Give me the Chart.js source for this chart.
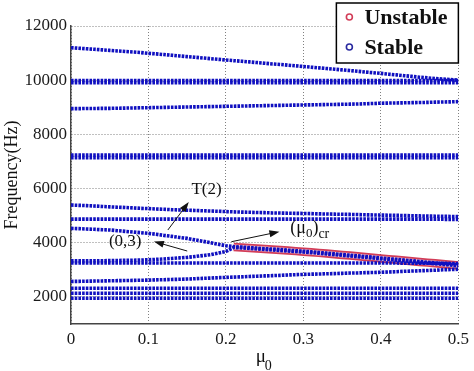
<!DOCTYPE html>
<html>
<head>
<meta charset="utf-8">
<script src="https://cdn.jsdelivr.net/npm/chart.js@4.4.0/dist/chart.umd.min.js"></script>
<style>
html, body { margin: 0; padding: 0; background: #fff; }
</style>
</head>
<body>
<canvas id="c" width="474" height="371"></canvas>
<script>
// mu_0 values along x
var mu = [0, 0.01, 0.02, 0.03, 0.04, 0.05, 0.06, 0.07, 0.08, 0.09,
  0.1, 0.11, 0.12, 0.13, 0.14, 0.15, 0.16, 0.17, 0.18, 0.19,
  0.2, 0.21, 0.22, 0.23, 0.24, 0.25, 0.26, 0.27, 0.28, 0.29,
  0.3, 0.31, 0.32, 0.33, 0.34, 0.35, 0.36, 0.37, 0.38, 0.39,
  0.4, 0.41, 0.42, 0.43, 0.44, 0.45, 0.46, 0.47, 0.48, 0.49, 0.5];

var yTicks = [2000, 4000, 6000, 8000, 10000, 12000];
var xTicks = [0, 0.1, 0.2, 0.3, 0.4, 0.5];

// stable frequencies (Hz)
var f11200 = [11200, 11180, 11160, 11140, 11120, 11100, 11080, 11060, 11040, 11020,
  10990, 10970, 10945, 10920, 10895, 10870, 10845, 10820, 10795, 10770,
  10745, 10720, 10700, 10675, 10650, 10625, 10600, 10580, 10555, 10530,
  10505, 10480, 10455, 10430, 10405, 10380, 10355, 10330, 10300, 10275,
  10250, 10220, 10195, 10165, 10140, 10110, 10085, 10060, 10040, 10020, 10000];
var f9990 = [9990, 9990, 9990, 9990, 9990, 9990, 9990, 9990, 9990, 9990,
  9990, 9990, 9990, 9990, 9990, 9990, 9990, 9990, 9990, 9990,
  9990, 9990, 9990, 9990, 9990, 9990, 9990, 9990, 9990, 9990,
  9990, 9990, 9990, 9990, 9990, 9990, 9990, 9990, 9990, 9990,
  9990, 9990, 9990, 9990, 9990, 9990, 9990, 9990, 9990, 9990, 9990];
var f9905 = [9905, 9905, 9905, 9905, 9905, 9905, 9905, 9905, 9905, 9905,
  9905, 9905, 9905, 9905, 9905, 9905, 9905, 9905, 9905, 9905,
  9905, 9905, 9905, 9905, 9905, 9905, 9905, 9905, 9905, 9905,
  9905, 9905, 9905, 9905, 9905, 9905, 9905, 9905, 9905, 9905,
  9905, 9905, 9905, 9905, 9905, 9905, 9905, 9905, 9905, 9905, 9905];
var f8950 = [8950, 8950, 8955, 8955, 8960, 8960, 8965, 8970, 8975, 8980,
  8985, 8990, 8995, 9000, 9005, 9010, 9015, 9020, 9025, 9030,
  9035, 9040, 9045, 9050, 9055, 9060, 9065, 9070, 9075, 9080,
  9085, 9090, 9095, 9100, 9105, 9110, 9115, 9120, 9130, 9140,
  9150, 9155, 9160, 9165, 9170, 9175, 9180, 9190, 9195, 9200, 9210];
var f7240 = [7240, 7240, 7240, 7240, 7240, 7240, 7240, 7240, 7240, 7240,
  7240, 7240, 7240, 7240, 7240, 7240, 7240, 7240, 7240, 7240,
  7240, 7240, 7240, 7240, 7240, 7240, 7240, 7240, 7240, 7240,
  7240, 7240, 7240, 7240, 7240, 7240, 7240, 7240, 7240, 7240,
  7240, 7240, 7240, 7240, 7240, 7240, 7240, 7240, 7240, 7240, 7240];
var f7140 = [7140, 7140, 7140, 7140, 7140, 7140, 7140, 7140, 7140, 7140,
  7140, 7140, 7140, 7140, 7140, 7140, 7140, 7140, 7140, 7140,
  7140, 7140, 7140, 7140, 7140, 7140, 7140, 7140, 7140, 7140,
  7140, 7140, 7140, 7140, 7140, 7140, 7140, 7140, 7140, 7140,
  7140, 7140, 7140, 7140, 7140, 7140, 7140, 7140, 7140, 7140, 7140];
var f5390 = [5390, 5380, 5370, 5355, 5340, 5325, 5310, 5300, 5285, 5270,
  5260, 5245, 5235, 5220, 5210, 5200, 5190, 5180, 5170, 5160,
  5150, 5140, 5130, 5125, 5115, 5110, 5100, 5095, 5090, 5085,
  5080, 5075, 5065, 5060, 5055, 5050, 5045, 5040, 5030, 5025,
  5020, 5015, 5010, 5005, 4995, 4990, 4985, 4980, 4975, 4970, 4965];
var f4870 = [4870, 4870, 4870, 4870, 4870, 4870, 4870, 4870, 4870, 4870,
  4870, 4870, 4870, 4870, 4870, 4870, 4870, 4870, 4870, 4870,
  4870, 4870, 4870, 4870, 4870, 4870, 4870, 4870, 4870, 4870,
  4870, 4870, 4870, 4870, 4870, 4870, 4870, 4870, 4870, 4870,
  4870, 4870, 4870, 4870, 4870, 4870, 4870, 4865, 4865, 4860, 4860];
// (0,3) pair: coalesce at (mu_0)cr ~ 0.21
var modeA = [4530, 4520, 4505, 4495, 4480, 4470, 4445, 4420, 4395, 4370,
  4345, 4310, 4270, 4235, 4195, 4160, 4105, 4055, 4000, 3945,
  3890, 3855, 3840, 3820, 3800, 3780, 3765, 3745, 3725, 3705,
  3685, 3665, 3640, 3615, 3590, 3565, 3540, 3515, 3490, 3465,
  3435, 3410, 3385, 3360, 3335, 3305, 3280, 3255, 3230, 3205, 3175];
var modeB = [3330, 3330, 3330, 3335, 3335, 3340, 3345, 3350, 3355, 3360,
  3370, 3385, 3400, 3420, 3440, 3460, 3490, 3525, 3560, 3620,
  3680, 3825, 3810, 3790, 3770, 3750, 3735, 3715, 3695, 3675,
  3655, 3635, 3610, 3585, 3560, 3535, 3510, 3485, 3460, 3435,
  3405, 3380, 3355, 3330, 3305, 3275, 3250, 3225, 3200, 3175, 3145];
var unstable = [null, null, null, null, null, null, null, null, null, null,
  null, null, null, null, null, null, null, null, null, null,
  null, 3840, 3825, 3805, 3785, 3765, 3750, 3730, 3710, 3690,
  3670, 3650, 3625, 3600, 3575, 3550, 3525, 3500, 3475, 3450,
  3420, 3395, 3370, 3345, 3320, 3290, 3265, 3240, 3215, 3190, 3160];
var f3250 = [3250, 3250, 3250, 3250, 3250, 3250, 3250, 3250, 3250, 3250,
  3250, 3250, 3250, 3250, 3250, 3250, 3250, 3250, 3250, 3250,
  3250, 3250, 3250, 3250, 3250, 3250, 3250, 3250, 3250, 3250,
  3250, 3250, 3250, 3250, 3250, 3250, 3250, 3250, 3250, 3250,
  3250, 3250, 3250, 3245, 3245, 3245, 3240, 3240, 3240, 3235, 3235];
var f2570 = [2570, 2575, 2580, 2585, 2590, 2595, 2600, 2605, 2610, 2615,
  2620, 2630, 2635, 2645, 2650, 2660, 2670, 2685, 2695, 2710,
  2720, 2730, 2740, 2755, 2765, 2775, 2785, 2795, 2810, 2820,
  2830, 2840, 2845, 2855, 2860, 2870, 2880, 2885, 2895, 2900,
  2910, 2920, 2930, 2945, 2955, 2965, 2975, 2985, 3000, 3010, 3020];
var f2320 = [2320, 2320, 2320, 2320, 2320, 2320, 2320, 2320, 2320, 2320,
  2320, 2320, 2320, 2320, 2320, 2320, 2320, 2320, 2320, 2320,
  2320, 2320, 2320, 2320, 2320, 2320, 2320, 2320, 2320, 2320,
  2320, 2320, 2320, 2320, 2320, 2320, 2320, 2320, 2320, 2320,
  2320, 2320, 2320, 2320, 2320, 2320, 2320, 2320, 2320, 2320, 2320];
var f2135 = [2135, 2135, 2135, 2135, 2135, 2135, 2135, 2135, 2135, 2135,
  2135, 2135, 2135, 2135, 2135, 2135, 2135, 2135, 2135, 2135,
  2135, 2135, 2135, 2135, 2135, 2135, 2135, 2135, 2135, 2135,
  2135, 2135, 2135, 2135, 2135, 2135, 2135, 2135, 2135, 2135,
  2135, 2135, 2135, 2135, 2135, 2135, 2135, 2135, 2135, 2135, 2135];
var f1950 = [1950, 1950, 1950, 1950, 1950, 1950, 1950, 1950, 1950, 1950,
  1950, 1950, 1950, 1950, 1950, 1950, 1950, 1950, 1950, 1950,
  1950, 1950, 1950, 1950, 1950, 1950, 1950, 1950, 1950, 1950,
  1950, 1950, 1950, 1950, 1950, 1950, 1950, 1950, 1950, 1950,
  1950, 1950, 1950, 1950, 1950, 1950, 1950, 1950, 1950, 1950, 1950];

var stableSeries = [f11200, f9990, f9905, f8950, f7240, f7140, f5390, f4870,
  modeA, modeB, f3250, f2570, f2320, f2135, f1950];
var legendLabels = ['Unstable', 'Stable'];

var SERIF = '"Liberation Serif", "Times New Roman", serif';
var BLUE = '#1010c0';
var RED = 'rgba(205,40,70,0.9)';

// labels/arrows, in data units
var notes = [
    { text: 'T(2)', x: 0.175, y: 5950, tail: [0.125, 4470], head: [0.152, 5500] },
    { text: '(0,3)', x: 0.070, y: 4030, tail: [0.150, 3694], head: [0.107, 4045] },
    { text: 'mucr', x: 0.283, y: 4540, tail: [0.207, 4037], head: [0.269, 4407] }
];

function pts(arr) {
    return mu.map(function (m, i) { return { x: m, y: arr[i] }; });
}

var datasets = stableSeries.map(function (s) {
    return {
        data: pts(s),
        borderColor: BLUE,
        borderWidth: 3.6,
        borderDash: [2.6, 1.1],
        borderCapStyle: 'butt',
        pointRadius: 0,
        tension: 0,
        order: 1
    };
});
datasets.push({
    data: pts(unstable), borderColor: '#f3c8d3', borderWidth: 5, pointRadius: 0, order: 5
});
datasets.push({
    data: pts(unstable), borderColor: RED, borderWidth: 8.5, pointRadius: 0, order: 6
});

function arrow(ctx, x1, y1, x2, y2) {
    var a = Math.atan2(y2 - y1, x2 - x1);
    ctx.strokeStyle = '#111';
    ctx.fillStyle = '#111';
    ctx.lineWidth = 1;
    ctx.beginPath();
    ctx.moveTo(x1, y1);
    ctx.lineTo(x2 - 6 * Math.cos(a), y2 - 6 * Math.sin(a));
    ctx.stroke();
    ctx.beginPath();
    ctx.moveTo(x2, y2);
    ctx.lineTo(x2 - 10 * Math.cos(a) + 3.5 * Math.sin(a), y2 - 10 * Math.sin(a) - 3.5 * Math.cos(a));
    ctx.lineTo(x2 - 10 * Math.cos(a) - 3.5 * Math.sin(a), y2 - 10 * Math.sin(a) + 3.5 * Math.cos(a));
    ctx.closePath();
    ctx.fill();
}

var extras = {
    id: 'extras',
    afterDraw: function (chart) {
        var ctx = chart.ctx;
        var xs = chart.scales.x, ys = chart.scales.y, ca = chart.chartArea;
        ctx.save();

        // annotations
        notes.forEach(function (n) {
            arrow(ctx, xs.getPixelForValue(n.tail[0]), ys.getPixelForValue(n.tail[1]),
                xs.getPixelForValue(n.head[0]), ys.getPixelForValue(n.head[1]));
            var px = xs.getPixelForValue(n.x), py = ys.getPixelForValue(n.y);
            ctx.fillStyle = '#111';
            ctx.textBaseline = 'middle';
            if (n.text === 'mucr') {
                ctx.textAlign = 'left';
                ctx.font = '18px ' + SERIF;
                ctx.fillText('(\u03bc', px, py);
                var w = ctx.measureText('(\u03bc').width;
                ctx.font = '13px ' + SERIF;
                ctx.fillText('0', px + w, py + 5);
                var w2 = ctx.measureText('0').width;
                ctx.font = '18px ' + SERIF;
                ctx.fillText(')', px + w + w2, py);
                var w3 = ctx.measureText(')').width;
                ctx.font = '14px ' + SERIF;
                ctx.fillText('cr', px + w + w2 + w3, py + 6);
            } else {
                ctx.textAlign = 'center';
                ctx.font = '17px ' + SERIF;
                ctx.fillText(n.text, px, py);
            }
        });

        // axis titles
        ctx.fillStyle = '#111';
        ctx.save();
        ctx.translate(12, (ca.top + ca.bottom) / 2);
        ctx.rotate(-Math.PI / 2);
        ctx.textAlign = 'center';
        ctx.textBaseline = 'middle';
        ctx.font = '18px ' + SERIF;
        ctx.fillText('Frequency(Hz)', 0, 0);
        ctx.restore();

        var cx = (ca.left + ca.right) / 2;
        ctx.textAlign = 'left';
        ctx.textBaseline = 'alphabetic';
        ctx.font = '19px ' + SERIF;
        ctx.fillText('\u03bc', cx - 9, 362);
        ctx.font = '14px ' + SERIF;
        ctx.fillText('0', cx, 370);

        // legend box
        var bx = ca.right - 122, by = ca.top - 23, bw = 122, bh = 60;
        ctx.fillStyle = '#fff';
        ctx.fillRect(bx, by, bw, bh);
        ctx.strokeStyle = '#000';
        ctx.lineWidth = 1.5;
        ctx.strokeRect(bx, by, bw, bh);
        [RED, '#2a2aa0'].forEach(function (c, i) {
            var yy = by + 14 + i * 30;
            ctx.beginPath();
            ctx.arc(bx + 13, yy, 3, 0, Math.PI * 2);
            ctx.lineWidth = 1.6;
            ctx.strokeStyle = c;
            ctx.stroke();
            ctx.fillStyle = '#111';
            ctx.font = 'bold 22px ' + SERIF;
            ctx.textAlign = 'left';
            ctx.textBaseline = 'middle';
            ctx.fillText(legendLabels[i], bx + 28, yy + 1);
        });
        ctx.restore();
    }
};

var tickFont = { family: SERIF, size: 17 };

new Chart(document.getElementById('c'), {
    type: 'line',
    data: { datasets: datasets },
    options: {
        responsive: false,
        animation: false,
        layout: { padding: { top: 26, right: 12, left: 0, bottom: 0 } },
        plugins: { legend: { display: false }, tooltip: { enabled: false } },
        scales: {
            x: {
                type: 'linear',
                min: 0,
                max: 0.5,
                afterBuildTicks: function (s) { s.ticks = xTicks.map(function (v) { return { value: v }; }); },
                afterFit: function (s) { s.height = 47; },
                ticks: {
                    font: tickFont, color: '#1a1a1a', padding: 5, maxRotation: 0,
                    callback: function (v) { return String(Number(v.toFixed(1))); }
                },
                grid: { color: '#808080', lineWidth: 1, drawTicks: false },
                border: { color: '#444', width: 1.5, dash: [1, 2] }
            },
            y: {
                min: 1000,
                max: 12000,
                afterBuildTicks: function (s) { s.ticks = yTicks.map(function (v) { return { value: v }; }); },
                afterFit: function (s) { s.width = 71; },
                ticks: {
                    font: tickFont, color: '#1a1a1a', padding: 4,
                    callback: function (v) { return String(v); }
                },
                grid: { color: '#808080', lineWidth: 1, drawTicks: false },
                border: { color: '#444', width: 1.5, dash: [1, 2] }
            }
        }
    },
    plugins: [extras]
});
</script>
</body>
</html>
